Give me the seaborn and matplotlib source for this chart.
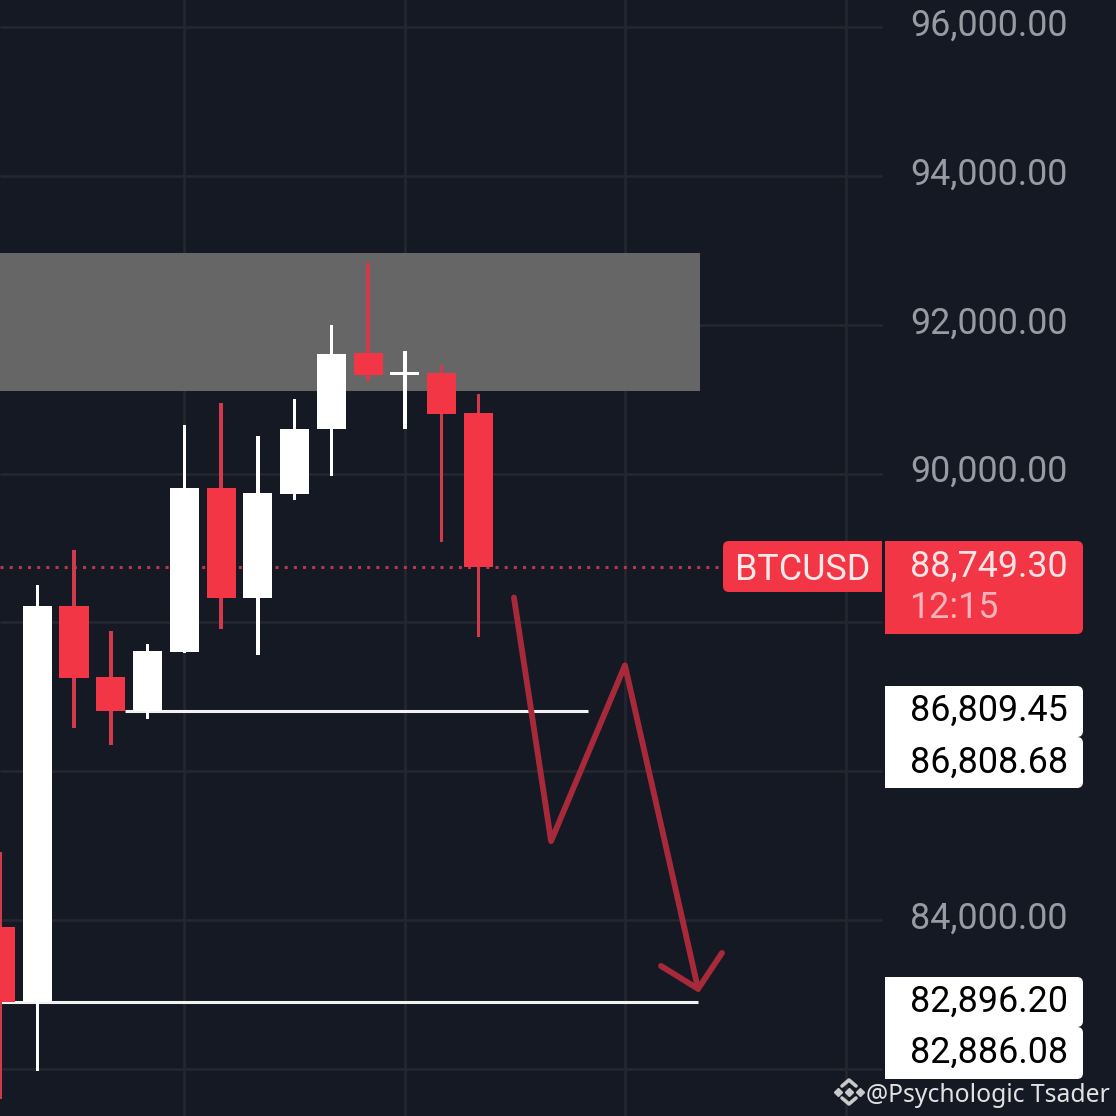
import matplotlib.pyplot as plt
import numpy as np
import pandas as pd
import seaborn as sns
from matplotlib.patches import FancyBboxPatch, Rectangle
from matplotlib.transforms import Affine2D

BG = "#151924"
GRID = "#24272f"
RED = "#f23645"
WICK_RED = "#d23a4c"
WHITE = "#ffffff"

idx = list(range(14))
high = [84913, 88497, 88980, 87879, 87705, 90658, 90953, 90510, 91007, 92000, 92832, 91651, 91463, 91074]
low = [81597, 81973, 86577, 86349, 86698, 87584, 87906, 87557, 89651, 89973, 91248, 90604, 89087, 87799]
body_top = [83906, 88215, 88215, 87262, 87611, 89812, 89812, 89745, 90604, 91611, 91624, 91370, 91356, 90819]
body_bot = [82900, 82900, 87248, 86805, 86805, 87597, 88322, 88322, 89731, 90604, 91329, 91330, 90805, 88749]
is_up = [False, True, False, False, True, True, False, True, True, True, False, True, False, False]

grid_prices = [96000, 94000, 92000, 90000, 88000, 86000, 84000, 82000]
label_prices = [96000, 94000, 92000, 90000, 84000]
grid_times = [5, 11, 17, 23]

band_low, band_high = 91114, 92966
last_price = 88749.30
support_a = 86809.45
support_b = 82896.20

arrow_x = [13.97, 14.98, 16.99, 18.98]
arrow_y = [88335, 85060, 87423, 83074]
head_x = [17.97, 18.98, 19.63]
head_y = [83382, 83074, 83557]

sns.set_theme(style="dark", rc={"axes.facecolor": BG, "figure.facecolor": BG})
plt.rcParams["font.family"] = ["Roboto", "DejaVu Sans"]

df = pd.DataFrame({"idx": idx, "high": high, "low": low, "top": body_top, "bot": body_bot, "up": is_up})

fig = plt.figure(figsize=(11.16, 11.16), dpi=100)
ax = fig.add_axes([0, 0, 1, 1])
ax.add_patch(Rectangle((0, 0), 1, 1, transform=ax.transAxes, color=BG, zorder=0))

# pixel coords, y going down, for the price tags
px = Affine2D().scale(1, -1).translate(0, 1116)

for p in grid_prices:
    ax.hlines(p, -0.02, 23.99, color=GRID, lw=1.9, zorder=1)
for t in grid_times:
    ax.axvline(t, color=GRID, lw=1.9, zorder=1)

ax.fill_between([-0.02, 19.03], band_low, band_high, color="#666666", lw=0, zorder=2)

ax.hlines(last_price, -0.02, 19.63, color="#b5384b", lw=2.2, linestyles=[(0, (1, 2))], zorder=2.5)
ax.hlines(support_a, 3.4, 15.99, color="#f2f2f2", lw=2.2, zorder=2.6)
ax.hlines(support_b, -0.02, 18.98, color="#f2f2f2", lw=2.2, zorder=2.6)

for up, sub in df.groupby("up"):
    body_col = WHITE if up else RED
    wick_col = WHITE if up else WICK_RED
    sns.barplot(x=sub["idx"].values, y=(sub["high"] - sub["low"]).values, bottom=sub["low"].values,
                native_scale=True, width=0.095, color=wick_col, saturation=1, errorbar=None,
                linewidth=0, ax=ax, zorder=3)
    sns.barplot(x=sub["idx"].values, y=(sub["top"] - sub["bot"]).values, bottom=sub["bot"].values,
                native_scale=True, width=0.79, color=body_col, saturation=1, errorbar=None,
                linewidth=0, ax=ax, zorder=4)

ARROW = "#a82a3a"
sns.lineplot(x=arrow_x, y=arrow_y, sort=False, estimator=None, color=ARROW, lw=4.2, ax=ax, zorder=5,
             solid_joinstyle="round", solid_capstyle="round")
sns.lineplot(x=head_x, y=head_y, sort=False, estimator=None, color=ARROW, lw=4.2, ax=ax, zorder=5,
             solid_joinstyle="round", solid_capstyle="round")

ax.set_xlim(-0.0136, 30.35)
ax.set_ylim(81365, 96367)
ax.set_axis_off()

for p in label_prices:
    ax.text(24.74, p - 115, f"{p:,.2f}", color="#999ba2", fontsize=25.8, va="baseline", ha="left", zorder=6)


def tag(x0, y0, x1, y1, color, square_left=True, square_right=False, z=7):
    r = 6
    ax.add_patch(FancyBboxPatch((x0 + r, y0 + r), x1 - x0 - 2 * r, y1 - y0 - 2 * r,
                                boxstyle=f"round,pad={r},rounding_size={r}", transform=px,
                                fc=color, ec="none", zorder=z, clip_on=False))
    if square_left:
        ax.add_patch(Rectangle((x0, y0), 20, y1 - y0, transform=px, fc=color, ec="none", zorder=z))
    if square_right:
        ax.add_patch(Rectangle((x1 - 20, y0), 20, y1 - y0, transform=px, fc=color, ec="none", zorder=z))


def tag_text(x, y, s, color, ha="left"):
    ax.text(x, y, s, transform=px, color=color, fontsize=25.8, ha=ha, va="center_baseline", zorder=8)


tag(885, 541, 1083, 634, RED)
tag(723, 541, 882, 592, RED, square_left=False, square_right=True)
tag(885, 686, 1083, 737, WHITE)
tag(885, 737, 1083, 788, WHITE)
tag(885, 977, 1083, 1027, WHITE)
tag(885, 1027, 1083, 1079, WHITE)

tag_text(909.5, 563, "88,749.30", "#fbe3e6")
tag_text(909.5, 604, "12:15", "#f9b3ba")
tag_text(802.5, 566, "BTCUSD", "#fde8ea", ha="center")
tag_text(909.5, 707, "86,809.45", "#000000")
tag_text(909.5, 759, "86,808.68", "#000000")
tag_text(909.5, 998, "82,896.20", "#000000")
tag_text(909.5, 1049, "82,886.08", "#000000")

# watermark
ax.text(866, 1092, "@Psychologic Tsader", transform=px, color="#e2e2e2", fontsize=17.8,
        family=["Noto Sans", "DejaVu Sans"], ha="left", va="center_baseline", zorder=9)
LOGO = "#c9c9c9"
ax.plot([838, 849, 860], [1092, 1092, 1092], ls="none", marker="D", ms=3.6, color=LOGO, transform=px, zorder=9)
ax.plot([842, 849, 856], [1086, 1080, 1086], color=LOGO, lw=2.6, transform=px, zorder=9)
ax.plot([842, 849, 856], [1098, 1104, 1098], color=LOGO, lw=2.6, transform=px, zorder=9)

fig.savefig("out.png", dpi=100, facecolor=BG)
